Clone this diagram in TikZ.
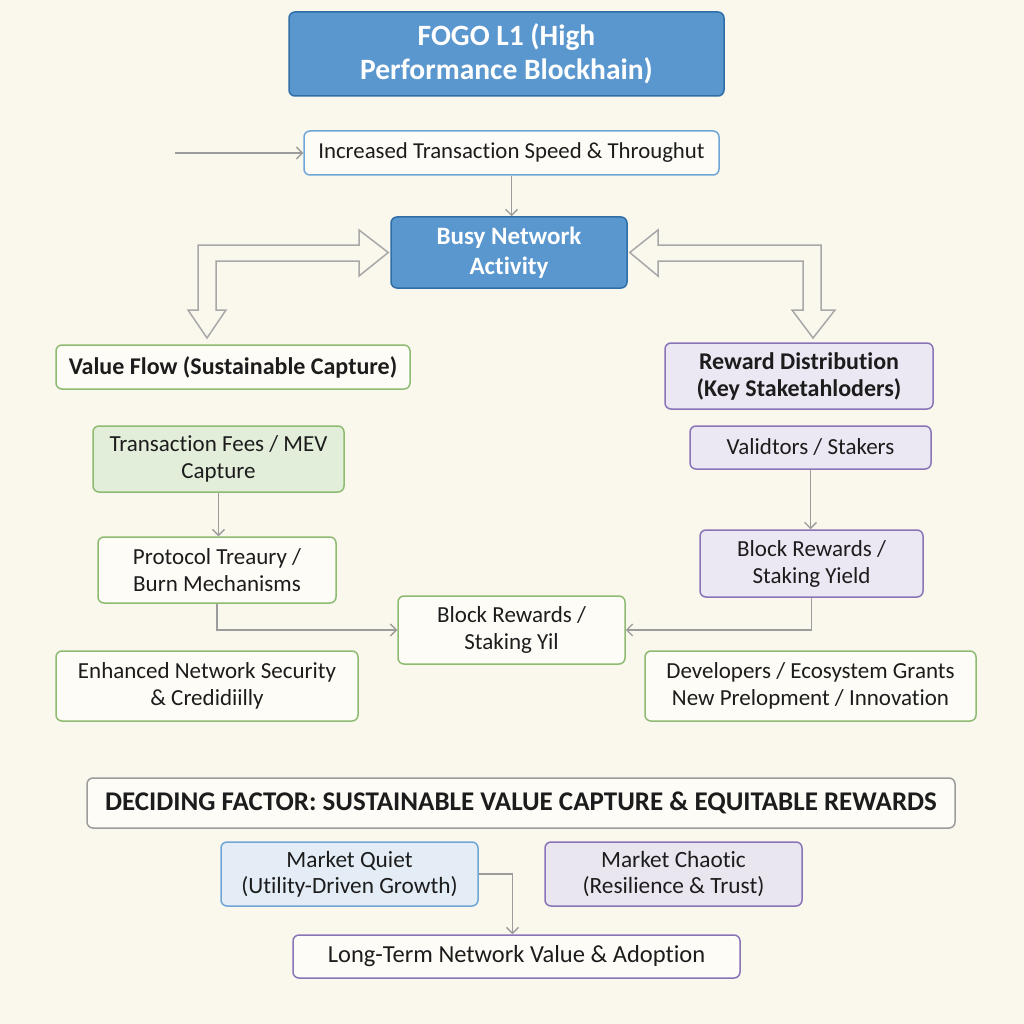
\documentclass[tikz,border=0pt]{standalone}
\usepackage{fontspec}
\setmainfont{Carlito}[Ligatures=NoCommon]
\usetikzlibrary{arrows.meta,calc}
\definecolor{bg}{HTML}{FAF7EC}
\definecolor{bluefill}{HTML}{5A97CE}
\definecolor{blueedge}{HTML}{2F6EA8}
\definecolor{lightblueedge}{HTML}{6FA6D8}
\definecolor{greenedge}{HTML}{8DBB72}
\definecolor{greenfill}{HTML}{E2EED9}
\definecolor{purpleedge}{HTML}{8A74B8}
\definecolor{purplefill}{HTML}{ECE8F3}
\definecolor{paleblue}{HTML}{E4EDF6}
\definecolor{palepurple}{HTML}{EAE6EF}
\definecolor{whitefill}{HTML}{FDFCF7}
\definecolor{arrowgray}{HTML}{9C9C9C}
\definecolor{hollowgray}{HTML}{A8A8A8}
\definecolor{txt}{HTML}{1C1C1C}
\tikzset{
  box/.style={draw, rounded corners=6pt, line width=1.5pt, align=center, text=txt,
    font=\fontsize{23}{27}\selectfont, inner sep=0pt},
  bluebox/.style={box, fill=bluefill, draw=blueedge, text=white},
  greenbox/.style={box, fill=whitefill, draw=greenedge},
  greenfilled/.style={box, fill=greenfill, draw=greenedge},
  purplebox/.style={box, fill=purplefill, draw=purpleedge},
  conn/.style={draw=arrowgray, line width=1.3pt, -{Straight Barb[length=6pt,width=12pt]}},
  hollow/.style={draw=hollowgray, line width=1.5pt, fill=bg, line join=miter},
}
\begin{document}
\begin{tikzpicture}[x=1pt,y=-1pt]
\fill[bg] (0,0) rectangle (1024,1024);
\useasboundingbox (0,0) rectangle (1024,1024);

\node[bluebox, minimum width=435, minimum height=84, font=\bfseries\fontsize{29.5}{34}\selectfont] (fogo) at (506.5,54) {FOGO L1 (High\\Performance Blockhain)};
\node[box, fill=whitefill, draw=lightblueedge, minimum width=415, minimum height=44, font=\fontsize{22.8}{27}\selectfont] (inc) at (511.5,153) {Increased Transaction Speed \& Throughut};
\node[bluebox, minimum width=236, minimum height=71, font=\bfseries\fontsize{25}{30}\selectfont] (busy) at (509,252.5) {Busy Network\\Activity};

\node[greenbox, minimum width=354, minimum height=44, font=\bfseries\fontsize{24}{27}\selectfont] (vf) at (233,367) {Value Flow (Sustainable Capture)};
\node[purplebox, minimum width=268, minimum height=66, font=\bfseries\fontsize{24}{27}\selectfont] (rd) at (799,376) {Reward Distribution\\(Key Staketahloders)};

\node[greenfilled, minimum width=251, minimum height=66] (tf) at (218.5,459) {Transaction Fees / MEV\\Capture};
\node[purplebox, minimum width=241, minimum height=43] (val) at (810.5,447.5) {Validtors / Stakers};
\node[greenbox, minimum width=238, minimum height=66] (pt) at (217,570) {Protocol Treaury /\\Burn Mechanisms};
\node[purplebox, minimum width=223, minimum height=67] (brr) at (811.5,563.5) {Block Rewards /\\Staking Yield};
\node[greenbox, minimum width=227, minimum height=68] (brc) at (511.5,630) {Block Rewards /\\Staking Yil};
\node[greenbox, minimum width=302, minimum height=70] (ens) at (207,686) {Enhanced Network Security\\\& Credidiilly};
\node[greenbox, minimum width=331, minimum height=70] (dev) at (810.5,686) {Developers / Ecosystem Grants\\New Prelopment / Innovation};

\node[box, fill=whitefill, draw=arrowgray, minimum width=868, minimum height=50, font=\bfseries\fontsize{27}{30}\selectfont] (df) at (521,803) {DECIDING FACTOR: SUSTAINABLE VALUE CAPTURE \& EQUITABLE REWARDS};
\node[box, fill=paleblue, draw=lightblueedge, minimum width=257, minimum height=64, font=\fontsize{23.3}{26}\selectfont] (mq) at (349.5,874) {Market Quiet\\(Utility-Driven Growth)};
\node[box, fill=palepurple, draw=purpleedge, minimum width=257, minimum height=64, font=\fontsize{23.3}{26}\selectfont] (mc) at (673.5,874) {Market Chaotic\\(Resilience \& Trust)};
\node[box, fill=whitefill, draw=purpleedge, minimum width=447, minimum height=43, font=\fontsize{24.5}{27}\selectfont] (lt) at (516.5,956.5) {Long-Term Network Value \& Adoption};

% connectors
\coordinate (incsrc) at (175,153);
\draw[conn] (incsrc) -- (inc.west);
\draw[conn] (inc.south) -- (inc.south |- busy.north);
\draw[conn] (tf.south) -- (tf.south |- pt.north);
\draw[conn] (pt.south) |- (brc.west);
\draw[conn] (val.south) -- (val.south |- brr.north);
\draw[conn] (brr.south) |- (brc.east);
\draw[conn] (mq.east) -| ($(lt.north)+(-4,0)$);

% hollow double arrows
\draw[hollow] (359,230) -- ($(busy.west)+(-2,0)$) -- (359,276) -- (359,261) -- (216,261) -- (216,310) -- (226,310) -- (207,338) -- (188,310) -- (198,310) -- (198,245) -- (359,245) -- cycle;
\draw[hollow] (658,230) -- ($(busy.east)+(2,0)$) -- (658,276) -- (658,261) -- (803,261) -- (803,310) -- (792,310) -- (813,338) -- (835,310) -- (821,310) -- (821,245) -- (658,245) -- cycle;
\end{tikzpicture}
\end{document}
